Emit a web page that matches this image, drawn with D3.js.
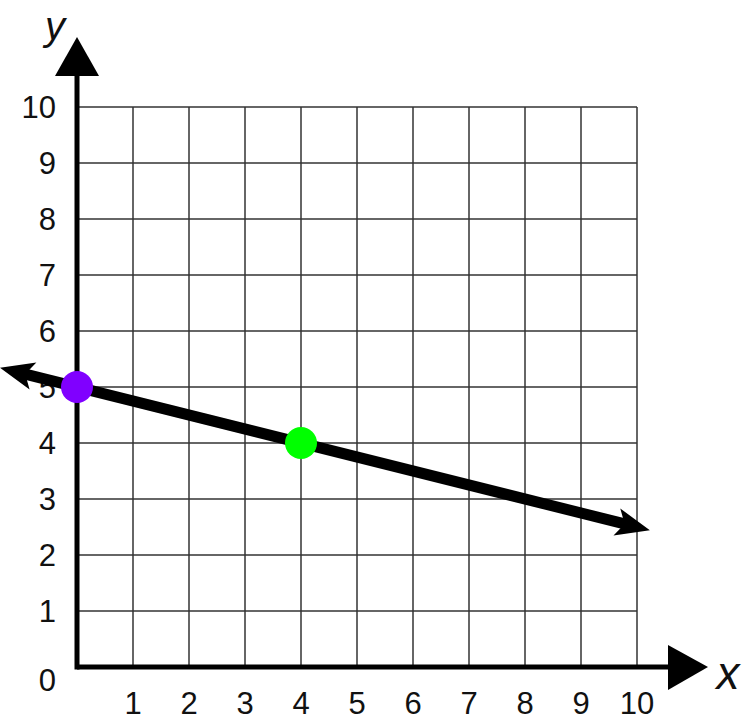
<!DOCTYPE html>
<html>
<head>
<meta charset="utf-8">
<script src="https://cdn.jsdelivr.net/npm/d3@7"></script>
<style>
  body { margin: 0; background: #fff; }
</style>
</head>
<body>
<script>
const xTicks = [1, 2, 3, 4, 5, 6, 7, 8, 9, 10];
const yTicks = [0, 1, 2, 3, 4, 5, 6, 7, 8, 9, 10];
const gridValues = [0, 1, 2, 3, 4, 5, 6, 7, 8, 9, 10];
const linePoints = [{x: 0, y: 5}, {x: 4, y: 4}];
const dotColors = ["#8000ff", "#00ff00"];
const lineExtent = [-1.375, 10.23];

const svg = d3.select("body").append("svg")
  .attr("width", 745)
  .attr("height", 724);

const x = d3.scaleLinear().domain([0, 10]).range([77, 637]);
const y = d3.scaleLinear().domain([0, 10]).range([667, 107]);

// grid
svg.append("g").selectAll("line")
  .data(gridValues.slice(1))
  .enter().append("line")
    .attr("x1", d => x(d)).attr("x2", d => x(d))
    .attr("y1", y(0)).attr("y2", y(10))
    .attr("stroke", "#333").attr("stroke-width", 1.5);

svg.append("g").selectAll("line")
  .data(gridValues.slice(1))
  .enter().append("line")
    .attr("x1", x(0)).attr("x2", x(10))
    .attr("y1", d => y(d)).attr("y2", d => y(d))
    .attr("stroke", "#333").attr("stroke-width", 1.5);

// axes
svg.append("line")
  .attr("x1", x(0)).attr("x2", 672)
  .attr("y1", y(0)).attr("y2", y(0))
  .attr("stroke", "#000").attr("stroke-width", 5);
svg.append("line")
  .attr("x1", x(0)).attr("x2", x(0))
  .attr("y1", y(0) + 2.5).attr("y2", 72)
  .attr("stroke", "#000").attr("stroke-width", 5);

// axis arrowheads
svg.append("path")
  .attr("d", `M${x(0)},37 L${x(0) + 22},76 L${x(0) - 22},76 Z`)
  .attr("fill", "#000");
svg.append("path")
  .attr("d", `M708,${y(0)} L668,${y(0) - 22} L668,${y(0) + 23} Z`)
  .attr("fill", "#000");

// tick labels
svg.append("g").selectAll("text")
  .data(yTicks)
  .enter().append("text")
    .attr("x", 56)
    .attr("y", d => d === 0 ? y(d) + 24 : y(d) + 11)
    .attr("text-anchor", "end")
    .attr("font-family", "Liberation Sans, Arial, sans-serif")
    .attr("font-size", "31px")
    .attr("fill", "#111")
    .text(d => d);

svg.append("g").selectAll("text")
  .data(xTicks)
  .enter().append("text")
    .attr("x", d => x(d))
    .attr("y", 714)
    .attr("text-anchor", "middle")
    .attr("font-family", "Liberation Sans, Arial, sans-serif")
    .attr("font-size", "31px")
    .attr("fill", "#111")
    .text(d => d);

// axis names
svg.append("text")
  .attr("x", 55).attr("y", 40)
  .attr("text-anchor", "middle")
  .attr("font-family", "Liberation Sans, Arial, sans-serif")
  .attr("font-style", "italic")
  .attr("font-size", "40px")
  .attr("fill", "#111")
  .text("y");
svg.append("text")
  .attr("x", 728).attr("y", 689)
  .attr("text-anchor", "middle")
  .attr("font-family", "Liberation Sans, Arial, sans-serif")
  .attr("font-style", "italic")
  .attr("font-size", "46px")
  .attr("fill", "#111")
  .text("x");

// the line through the two points
const slope = (linePoints[1].y - linePoints[0].y) / (linePoints[1].x - linePoints[0].x);
const f = v => linePoints[0].y + slope * (v - linePoints[0].x);

const p0 = [x(lineExtent[0]), y(f(lineExtent[0]))];
const p1 = [x(lineExtent[1]), y(f(lineExtent[1]))];
const ang = Math.atan2(p1[1] - p0[1], p1[0] - p0[0]) * 180 / Math.PI;
const headLen = 34, inset = 24;
const len = Math.hypot(p1[0] - p0[0], p1[1] - p0[1]);
const ux = (p1[0] - p0[0]) / len, uy = (p1[1] - p0[1]) / len;

svg.append("line")
  .attr("x1", p0[0] + ux * inset).attr("y1", p0[1] + uy * inset)
  .attr("x2", p1[0] - ux * inset).attr("y2", p1[1] - uy * inset)
  .attr("stroke", "#000").attr("stroke-width", 11);

// arrowheads at both ends of the line
svg.append("g").selectAll("path")
  .data([{p: p1, a: ang}, {p: p0, a: ang + 180}])
  .enter().append("path")
    .attr("transform", d => `translate(${d.p[0]},${d.p[1]}) rotate(${d.a})`)
    .attr("d", `M0,0 L${-headLen},-14 L${-headLen + 8},0 L${-headLen},14 Z`)
    .attr("fill", "#000");

// points
svg.append("g").selectAll("circle")
  .data(linePoints)
  .enter().append("circle")
    .attr("cx", d => x(d.x))
    .attr("cy", d => y(d.y))
    .attr("r", 16)
    .attr("fill", (d, i) => dotColors[i]);
</script>
</body>
</html>
